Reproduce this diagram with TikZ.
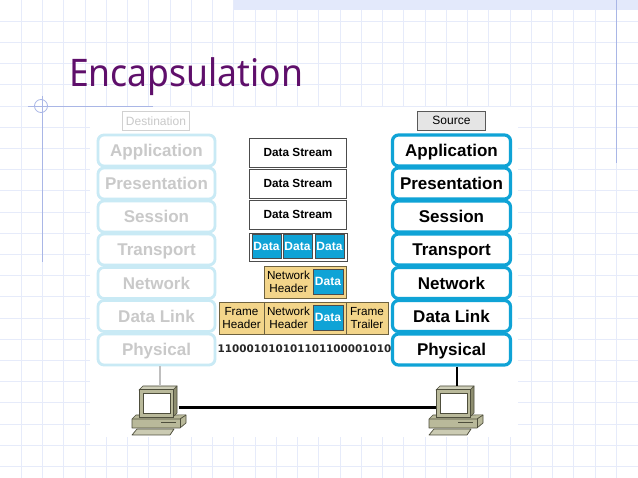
\documentclass[tikz,border=0pt]{standalone}
\usepackage{fontspec}
\setmainfont{Liberation Sans}
\newfontfamily\titlefont{Noto Sans}
\newfontfamily\bitsfont{DejaVu Sans}
\definecolor{gridc}{HTML}{E6EBFA}
\definecolor{bandc}{HTML}{E3E9FB}
\definecolor{axisc}{HTML}{A9B6E6}
\definecolor{titlec}{HTML}{5F0F6B}
\definecolor{ltblue}{HTML}{C9EAF5}
\definecolor{dkblue}{HTML}{0FA3D6}
\definecolor{ltgray}{HTML}{C9C9C9}
\definecolor{tan}{HTML}{F3D58A}
\definecolor{tanb}{HTML}{6E6240}
\definecolor{pcface}{HTML}{B9B99A}
\definecolor{pcdark}{HTML}{8E8E70}
\definecolor{pcline}{HTML}{4E4E3C}
\tikzset{
 layerL/.style={draw=ltblue,line width=2.8pt,rounded corners=6pt,minimum width=117pt,minimum height=31pt,inner sep=0pt,text height=15pt,text depth=2pt,text=ltgray,font=\fontsize{17}{17}\selectfont\bfseries},
 layerR/.style={draw=dkblue,line width=3.2pt,rounded corners=6pt,minimum width=118pt,minimum height=31pt,inner sep=0pt,text height=15pt,text depth=2pt,text=black,font=\fontsize{17}{17}\selectfont\bfseries},
 stream/.style={draw=black!70,line width=.9pt,fill=white,minimum width=97pt,minimum height=29pt,inner sep=0pt,font=\fontsize{11.8}{12}\selectfont\bfseries},
 datacell/.style={draw=black!70,line width=.8pt,fill=dkblue,text=white,minimum width=29pt,minimum height=24pt,inner sep=0pt,font=\fontsize{12}{12}\selectfont\bfseries},
 hdr/.style={draw=tanb,line width=.9pt,fill=tan,inner sep=0pt,align=center,font=\fontsize{11.7}{13}\selectfont},
 hdrtext/.style={inner sep=0pt,align=center,font=\fontsize{11.7}{13}\selectfont},
 grp/.style={draw=black!70,line width=.9pt,fill=white,inner sep=0pt},
 monitor/.style={draw=pcline,line width=.7pt,fill=pcface,minimum width=34pt,minimum height=28pt,inner sep=0pt},
 conn/.style={line width=2.6pt,black},
 pcpart/.style={draw=pcline,line width=.7pt,fill=pcface,line join=round},
}
\newcommand{\pcbody}[2]{%
 \begin{scope}[shift={(#1,386)}]
  \path[pcpart] (-7,33) -- (-3,29) -- (47,29) -- (47,37) -- (41,42) -- (-7,42) -- cycle;
  \path[pcpart] (-7,33) -- (41,33) -- (47,29);
  \draw[pcline] (41,33) -- (41,42);
  \draw[pcline,line width=1pt] (22,37) -- (37,37);
  \path[pcpart,fill=pcface!75!white] (-2,43) -- (35,43) -- (31,49) -- (-7,49) -- cycle;
  \path[pcpart,fill=pcdark] (34,4) -- (38,0) -- (38,27) -- (34,31) -- cycle;
  \path[pcpart,fill=pcface!70!white] (0,4) -- (4,0) -- (38,0) -- (34,4) -- cycle;
  \node[monitor,anchor=north west] (#2) at (0,3) {};
  \path[draw=pcline,line width=.6pt,fill=white] (4,7) rectangle (31,27);
 \end{scope}}
\begin{document}
\begin{tikzpicture}[x=1pt,y=-1pt]
\useasboundingbox (0,0) rectangle (638,478);
\fill[white] (0,0) rectangle (638,478);
% grid
\foreach \i in {1,...,29} \draw[gridc,line width=.8pt] ({21.25*\i},0) -- ({21.25*\i},478);
\foreach \i in {1,...,22} \draw[gridc,line width=.8pt] (0,{21.2*\i}) -- (638,{21.2*\i});
\fill[bandc] (234,0) rectangle (638,10);
% white panel
\fill[white] (90,107) rectangle (518,437);
\draw[axisc,line width=.8pt] (616,0) -- (616,163);
\draw[axisc,line width=.8pt] (28,106) -- (153,106);
\draw[axisc,line width=.8pt] (42,96) -- (42,262);
\draw[axisc,line width=.8pt] (41,106) circle (6.5);
% title
\node[anchor=base west,inner sep=0pt,text=titlec,xscale=.935,transform shape,font=\titlefont\fontsize{38}{38}\selectfont] (title) at (69,87) {Encapsulation};
% labels
\node[draw=black!18,line width=.9pt,minimum width=67pt,minimum height=19pt,inner sep=0pt,text=ltgray,font=\fontsize{12}{12}\selectfont] (dest) at (156,121) {Destination};
\node[draw=black!65,line width=.9pt,fill=black!10,minimum width=68pt,minimum height=19pt,inner sep=0pt,font=\fontsize{12}{12}\selectfont] (src) at (451.5,120.5) {Source};
% layers
\foreach \n/\t/\y in {a/Application/150.5,p/Presentation/183.5,s/Session/216.5,t/Transport/249.5,n/Network/283,d/Data Link/316,h/Physical/349.5}{
 \node[layerL] (L\n) at (156.5,\y) {\t};
 \node[layerR] (R\n) at (451.5,\y) {\t};
}
% stream boxes
\node[stream] (s1) at (298,152.5) {Data Stream};
\node[stream] (s2) at (298,183.5) {Data Stream};
\node[stream] (s3) at (298,214.5) {Data Stream};
\node[grp,minimum width=98pt,minimum height=28pt] (g) at (298,247) {};
\node[datacell] (d1) at (266.5,246.5) {Data};
\node[datacell] (d2) at (297.5,246.5) {Data};
\node[datacell] (d3) at (329.5,246.5) {Data};
% network
\node[hdr,minimum width=82pt,minimum height=32pt] (nw) at (305,282) {};
\node[hdrtext] (nwt) at (288.5,282) {Network\\Header};
\node[datacell,minimum width=30pt,minimum height=25pt] (d4) at (328,281.5) {Data};
% frame
\node[hdr,minimum width=45pt,minimum height=32pt] (fh) at (241.5,318) {Frame\\Header};
\node[hdr,minimum width=82pt,minimum height=32pt] (nh) at (305,318) {};
\node[hdrtext] (nht) at (288.5,318) {Network\\Header};
\node[datacell,minimum width=30pt,minimum height=25pt] (d5) at (328,317.5) {Data};
\node[hdr,minimum width=42pt,minimum height=32pt] (ft) at (367,318) {Frame\\Trailer};
% bits
\node[inner sep=0pt,font=\bitsfont\fontsize{10.4}{10}\selectfont\bfseries,text=black!85] (bits) at (304.5,349) {110001010101101100001010};
% computers
\pcbody{139}{pcL}
\pcbody{436}{pcR}
\coordinate (stemL) at ([xshift=3.5pt,yshift=3pt]pcL.north);
\coordinate (stemR) at ([xshift=3.5pt,yshift=3pt]pcR.north);
\draw[line width=2.4pt,black!25] (Lh.south -| stemL) -- (stemL);
\draw[line width=2.4pt,black] (Rh.south -| stemR) -- (stemR);
\draw[conn] ([xshift=5pt,yshift=-4pt]pcL.east) -- ([yshift=-4pt]pcR.west);
\end{tikzpicture}
\end{document}
